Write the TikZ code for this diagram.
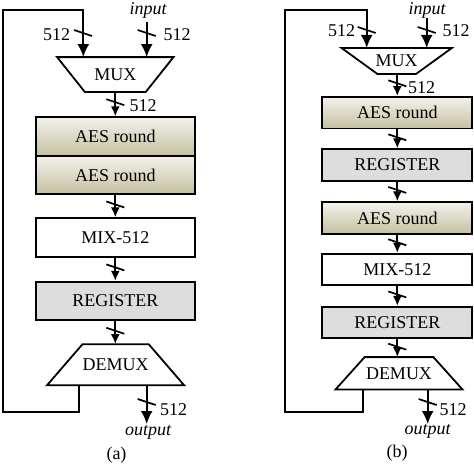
\documentclass[tikz,border=0pt]{standalone}
\usepackage{fontspec}
\setmainfont{Liberation Serif}
\usepackage{tikz}
\usetikzlibrary{calc}
\usetikzlibrary{arrows.meta}

\definecolor{aesTop}{HTML}{F3F2EB}
\definecolor{aesBot}{HTML}{C4C0A2}
\definecolor{regGray}{HTML}{DDDDDD}

\tikzset{
	blk/.style={draw, line width=1.8pt, inner sep=0pt},
	aes/.style={blk, top color=aesTop, bottom color=aesBot},
	reg/.style={blk, fill=regGray},
	gate/.style={inner sep=0pt},
	edge/.style={line width=1.8pt},
	sig/.style={line width=2pt, -{Latex[length=13pt,width=12pt]}},
	sigs/.style={line width=2pt, -{Latex[length=10pt,width=9pt]}},
	busmark/.pic={\draw[line width=1.7pt] (-9,-3) -- (9,3);},
}

\begin{document}
\begin{tikzpicture}[x=1pt, y=-1pt, every node/.style={font=\fontsize{18}{21}\selectfont}]
			\useasboundingbox (0,0) rectangle (474,464);
			% (a)
			\node [gate, minimum width=116, minimum height=34.4] (muxa) at (115.3,74.5) {MUX};
			\draw [edge] (muxa.north west) -- (muxa.north east) -- ([xshift=-27.7]muxa.south east) -- ([xshift=27.7]muxa.south west) -- cycle;
			\node [aes, minimum width=159.3, minimum height=38.4] (aesa1) at (115.3,136.5) {AES round};
			\node [aes, minimum width=159.3, minimum height=38.4] (aesa2) at (115.3,175) {AES round};
			\node [blk, minimum width=159.3, minimum height=38.4] (mixa) at (115.3,237.5) {MIX-512};
			\node [reg, minimum width=159.3, minimum height=38.4] (rega) at (115.3,301) {REGISTER};
			\node [gate, minimum width=136.7, minimum height=40.7] (demuxa) at (115.6,364.7) {DEMUX};
			\draw [edge] ([xshift=35.5]demuxa.north west) -- ([xshift=-35.5]demuxa.north east) -- (demuxa.south east) -- (demuxa.south west) -- cycle;
			\coordinate (ina) at (146.7,22);
			\coordinate (outa) at (146.7,424);
			\draw [sig] (ina) -- (ina |- muxa.north);
			\draw [sig] ([xshift=-37]demuxa.south) -- ++(0,27) -| (3,10) -| ([xshift=-32]muxa.north);
			\draw [sigs] (muxa.south -| aesa1.north) -- (aesa1.north);
			\draw [sigs] (aesa2.south) -- (mixa.north);
			\draw [sigs] (mixa.south) -- (rega.north);
			\draw [sigs] (rega.south) -- (demuxa.north -| rega.south);
			\draw [sig] (demuxa.south -| outa) -- (outa);
			\pic at (83,33) {busmark};
			\pic at (146.7,33) {busmark};
			\pic at ($(muxa.south -| aesa1.north)!0.42!(aesa1.north)$) {busmark};
			\pic at ($(aesa2.south)!0.42!(mixa.north)$) {busmark};
			\pic at ($(mixa.south)!0.42!(rega.north)$) {busmark};
			\pic at ($(rega.south)!0.42!(demuxa.north -| rega.south)$) {busmark};
			\pic at (146.7,402) {busmark};
			\node (wa1) at (56.7,35) {512};
			\node (wa2) at (177,35) {512};
			\node (wa3) at (143,106) {512};
			\node (wa4) at (173.5,410) {512};
			\node [font=\fontsize{18}{21}\selectfont\itshape] (inlbla) at (148,10.5) {input};
			\node [font=\fontsize{18}{21}\selectfont\itshape] (outlbla) at (148,432) {output};
			\node (capa) at (116.5,455) {(a)};
			% (b)
			\node [gate, minimum width=110, minimum height=25.7] (muxb) at (396.7,61) {MUX};
			\draw [edge] (muxb.north west) -- (muxb.north east) -- ([xshift=-36]muxb.south east) -- ([xshift=36]muxb.south west) -- cycle;
			\node [aes, minimum width=150, minimum height=31.4] (aesb1) at (397.3,112.7) {AES round};
			\node [reg, minimum width=150, minimum height=31.4] (regb1) at (397.3,165) {REGISTER};
			\node [aes, minimum width=150, minimum height=31.4] (aesb2) at (397.3,218) {AES round};
			\node [blk, minimum width=150, minimum height=31.4] (mixb) at (397.3,269.5) {MIX-512};
			\node [reg, minimum width=150, minimum height=31.4] (regb2) at (397.3,322.5) {REGISTER};
			\node [gate, minimum width=126.6, minimum height=32] (demuxb) at (399,373.3) {DEMUX};
			\draw [edge] ([xshift=29.1]demuxb.north west) -- ([xshift=-29.1]demuxb.north east) -- (demuxb.south east) -- (demuxb.south west) -- cycle;
			\coordinate (inb) at (426.7,18);
			\coordinate (outb) at (427.7,424);
			\draw [sig] (inb) -- (inb |- muxb.north);
			\draw [sig] ([xshift=-35.7]demuxb.south) -- ++(0,22.4) -| (285,9.5) -| ([xshift=-30]muxb.north);
			\draw [sigs] (muxb.south -| aesb1.north) -- (aesb1.north);
			\draw [sigs] (aesb1.south) -- (regb1.north);
			\draw [sigs] (regb1.south) -- (aesb2.north);
			\draw [sigs] (aesb2.south) -- (mixb.north);
			\draw [sigs] (mixb.south) -- (regb2.north);
			\draw [sigs] (regb2.south) -- (demuxb.north -| regb2.south);
			\draw [sig] (demuxb.south -| outb) -- (outb);
			\pic at (366.7,30) {busmark};
			\pic at (426.7,30) {busmark};
			\pic at ($(muxb.south -| aesb1.north)!0.42!(aesb1.north)$) {busmark};
			\pic at ($(aesb1.south)!0.42!(regb1.north)$) {busmark};
			\pic at ($(regb1.south)!0.42!(aesb2.north)$) {busmark};
			\pic at ($(aesb2.south)!0.42!(mixb.north)$) {busmark};
			\pic at ($(mixb.south)!0.42!(regb2.north)$) {busmark};
			\pic at ($(regb2.south)!0.42!(demuxb.north -| regb2.south)$) {busmark};
			\pic at (427.7,402) {busmark};
			\node (wb1) at (341.7,31) {512};
			\node (wb2) at (456,31) {512};
			\node (wb3) at (421.7,88) {512};
			\node (wb4) at (453,410) {512};
			\node [font=\fontsize{18}{21}\selectfont\itshape] (inlblb) at (427,10.5) {input};
			\node [font=\fontsize{18}{21}\selectfont\itshape] (outlblb) at (427.5,431) {output};
			\node (capb) at (397,453) {(b)};
		\end{tikzpicture}
\end{document}
